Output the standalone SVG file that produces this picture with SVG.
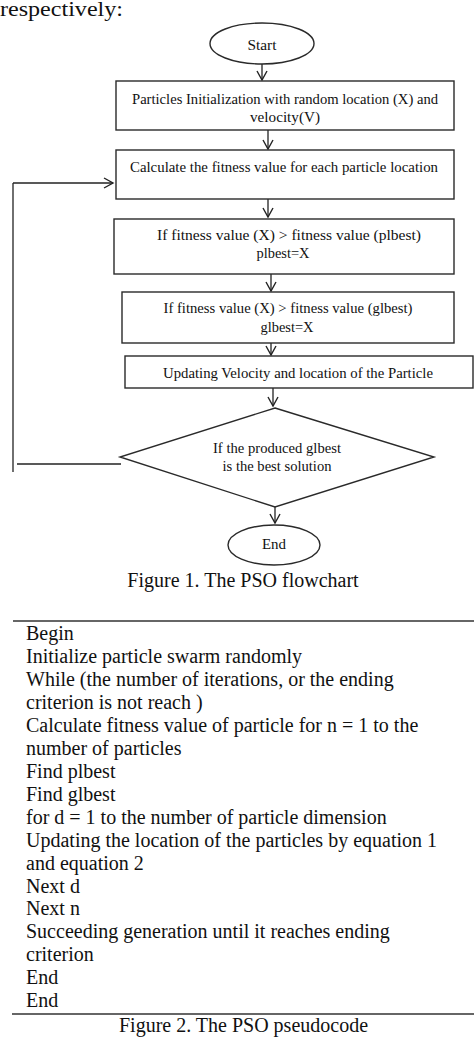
<svg xmlns="http://www.w3.org/2000/svg" width="474" height="1037" viewBox="0 0 474 1037">
<defs>
<style>
.box{fill:#fff;stroke:#2a2a2a;stroke-width:1.4}
.ft{font-family:"Liberation Serif","Times New Roman",serif;font-size:15px;fill:#111;text-anchor:middle}
.pc{font-family:"Liberation Serif","Times New Roman",serif;font-size:20px;fill:#111}
.cap{font-family:"Liberation Serif","Times New Roman",serif;font-size:20px;fill:#111;text-anchor:middle}
.ln{fill:none;stroke:#222;stroke-width:1.3}
</style>
<marker id="arr" markerWidth="14" markerHeight="14" refX="10" refY="6" orient="auto" markerUnits="userSpaceOnUse">
<path d="M1,1 L10,6 L1,11" fill="none" stroke="#222" stroke-width="1.4"/>
</marker>
</defs>
<rect width="474" height="1037" fill="#fff"/>
<text x="0" y="16" class="pc" font-size="20" textLength="123" lengthAdjust="spacingAndGlyphs">respectively:</text>

<g id="connectors">
<line class="ln" x1="262" y1="64" x2="262" y2="80" marker-end="url(#arr)"/>
<line class="ln" x1="268" y1="130" x2="268" y2="149" marker-end="url(#arr)"/>
<line class="ln" x1="268" y1="199" x2="268" y2="217" marker-end="url(#arr)"/>
<line class="ln" x1="271" y1="274" x2="271" y2="291" marker-end="url(#arr)"/>
<line class="ln" x1="271" y1="343" x2="271" y2="355" marker-end="url(#arr)"/>
<line class="ln" x1="273" y1="388" x2="273" y2="406" marker-end="url(#arr)"/>
<line class="ln" x1="275" y1="507" x2="275" y2="523" marker-end="url(#arr)"/>
<line class="ln" x1="17" y1="464" x2="121" y2="464"/>
<line class="ln" x1="13" y1="472" x2="13" y2="183" stroke="#555"/>
<line class="ln" x1="13" y1="183" x2="113" y2="183" marker-end="url(#arr)"/>
</g>

<g id="start">
<ellipse cx="262" cy="43.5" rx="52" ry="20.5" class="box"/>
<text x="262" y="50" class="ft" textLength="29" lengthAdjust="spacingAndGlyphs">Start</text>
</g>

<g id="init">
<rect x="116" y="81" width="338" height="49" class="box"/>
<text x="285" y="104" class="ft" textLength="306" lengthAdjust="spacingAndGlyphs">Particles Initialization with random location (X) and</text>
<text x="285" y="122" class="ft" textLength="70" lengthAdjust="spacingAndGlyphs">velocity(V)</text>
</g>

<g id="fitness">
<rect x="116" y="150" width="338" height="49" class="box"/>
<text x="284" y="172" class="ft" textLength="308" lengthAdjust="spacingAndGlyphs">Calculate the fitness value for each particle location</text>
</g>

<g id="pbest">
<rect x="114" y="219" width="340" height="55" class="box"/>
<text x="289" y="240" class="ft" textLength="264" lengthAdjust="spacingAndGlyphs">If fitness value (X) &gt; fitness value  (plbest)</text>
<text x="283" y="258" class="ft" textLength="53" lengthAdjust="spacingAndGlyphs">plbest=X</text>
</g>

<g id="gbest">
<rect x="122" y="292" width="332" height="51" class="box"/>
<text x="288" y="313" class="ft" textLength="249" lengthAdjust="spacingAndGlyphs">If fitness value (X) &gt; fitness value (glbest)</text>
<text x="287" y="332" class="ft" textLength="53" lengthAdjust="spacingAndGlyphs">glbest=X</text>
</g>

<g id="update">
<rect x="125" y="356" width="348" height="32" class="box"/>
<text x="298" y="378" class="ft" textLength="270" lengthAdjust="spacingAndGlyphs">Updating Velocity and location of the Particle</text>
</g>

<g id="decision">
<polygon points="275,408 434,457 275,507 120,457" class="box"/>
<text x="277" y="453" class="ft" textLength="128" lengthAdjust="spacingAndGlyphs">If the produced glbest</text>
<text x="277" y="471" class="ft" textLength="109" lengthAdjust="spacingAndGlyphs">is the best solution</text>
</g>

<g id="end">
<ellipse cx="274" cy="545" rx="46" ry="20" class="box"/>
<text x="274" y="549" class="ft" textLength="24" lengthAdjust="spacingAndGlyphs">End</text>
</g>

<text x="243" y="587" class="cap">Figure 1. The PSO flowchart</text>

<g id="pseudocode">
<line x1="13" y1="621" x2="474" y2="621" stroke="#333" stroke-width="1.5"/>
<text class="pc" x="26" y="640">Begin</text>
<text class="pc" x="26" y="663">Initialize particle swarm randomly</text>
<text class="pc" x="26" y="686">While (the number of iterations, or the ending</text>
<text class="pc" x="26" y="709">criterion is not reach )</text>
<text class="pc" x="26" y="732">Calculate fitness value of particle for n = 1 to the</text>
<text class="pc" x="26" y="755">number of particles</text>
<text class="pc" x="26" y="778">Find plbest</text>
<text class="pc" x="26" y="801">Find glbest</text>
<text class="pc" x="26" y="824">for d = 1 to the number of particle dimension</text>
<text class="pc" x="26" y="847">Updating the location of the particles by equation 1</text>
<text class="pc" x="26" y="870">and equation 2</text>
<text class="pc" x="26" y="893">Next d</text>
<text class="pc" x="26" y="915">Next n</text>
<text class="pc" x="26" y="938">Succeeding generation until it reaches ending</text>
<text class="pc" x="26" y="961">criterion</text>
<text class="pc" x="26" y="984">End</text>
<text class="pc" x="26" y="1007">End</text>
<line x1="12" y1="1014" x2="474" y2="1014" stroke="#333" stroke-width="1.5"/>
</g>
<text x="243.5" y="1032" class="cap">Figure 2. The PSO pseudocode</text>
</svg>
